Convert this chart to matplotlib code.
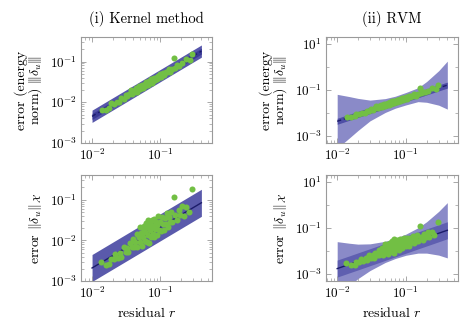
import matplotlib
matplotlib.use('Agg')
import matplotlib.pyplot as plt
from matplotlib.ticker import FixedLocator, NullFormatter, LogLocator

plt.rcParams['font.family'] = 'serif'
plt.rcParams['font.serif'] = ['cmr10']
plt.rcParams['mathtext.fontset'] = 'cm'
plt.rcParams['axes.formatter.use_mathtext'] = True

# shared samples: residual vs. error
top_r = [0.014, 0.016, 0.018, 0.019, 0.021, 0.023, 0.025, 0.027, 0.029, 0.031,
         0.033, 0.035, 0.037, 0.039, 0.040, 0.042, 0.044, 0.045, 0.047, 0.048,
         0.050, 0.051, 0.053, 0.054, 0.056, 0.057, 0.059, 0.060, 0.062, 0.063,
         0.065, 0.066, 0.068, 0.070, 0.071, 0.073, 0.075, 0.077, 0.079, 0.081,
         0.083, 0.085, 0.088, 0.090, 0.093, 0.096, 0.099, 0.102, 0.106, 0.110,
         0.115, 0.120, 0.126, 0.132, 0.140, 0.148, 0.160, 0.165, 0.175, 0.190,
         0.210, 0.240, 0.270, 0.290]
top_err = [0.0066, 0.0066, 0.0073, 0.0094, 0.0090, 0.0104, 0.0099, 0.0128, 0.0121, 0.0153,
           0.0141, 0.0161, 0.0200, 0.0158, 0.0194, 0.0183, 0.0222, 0.0182, 0.0218, 0.0248,
           0.0207, 0.0241, 0.0234, 0.0272, 0.0227, 0.0257, 0.0287, 0.0251, 0.0321, 0.0275,
           0.0307, 0.0267, 0.0337, 0.0299, 0.0326, 0.0368, 0.0304, 0.0364, 0.0338, 0.0401,
           0.0344, 0.0383, 0.0428, 0.0365, 0.0431, 0.0410, 0.0490, 0.0427, 0.0477, 0.0530,
           0.0476, 0.0567, 0.0539, 0.0642, 0.0567, 0.0666, 0.125, 0.0705, 0.0827, 0.0795,
           0.0945, 0.117, 0.112, 0.157]

bot_r = [0.0135, 0.016, 0.018, 0.019, 0.021, 0.022, 0.024, 0.026, 0.027, 0.029,
         0.031, 0.033, 0.034, 0.036, 0.038, 0.040, 0.041, 0.043, 0.045, 0.046,
         0.048, 0.050, 0.051, 0.052, 0.054, 0.055, 0.056, 0.058, 0.059, 0.060,
         0.062, 0.063, 0.064, 0.066, 0.067, 0.068, 0.070, 0.071, 0.072, 0.074,
         0.075, 0.077, 0.078, 0.080, 0.082, 0.084, 0.086, 0.088, 0.090, 0.093,
         0.095, 0.098, 0.101, 0.105, 0.108, 0.112, 0.116, 0.120, 0.125, 0.130,
         0.135, 0.140, 0.145, 0.150, 0.160, 0.165, 0.175, 0.185, 0.195, 0.210,
         0.220, 0.240, 0.260, 0.290]
bot_err = [0.0030, 0.0025, 0.0026, 0.0034, 0.0035, 0.0046, 0.0038, 0.0049, 0.0040, 0.0067,
           0.0052, 0.0066, 0.0051, 0.0087, 0.0068, 0.0109, 0.0067, 0.0090, 0.0142, 0.0068,
           0.0121, 0.0210, 0.0091, 0.0153, 0.0074, 0.0196, 0.0123, 0.0231, 0.0099, 0.0164,
           0.0273, 0.0093, 0.0208, 0.0139, 0.0324, 0.0086, 0.0265, 0.0179, 0.0121, 0.0233,
           0.0315, 0.0146, 0.0221, 0.0118, 0.0327, 0.0194, 0.0289, 0.0139, 0.0236, 0.0391,
           0.0180, 0.0288, 0.0170, 0.0375, 0.0249, 0.0176, 0.0365, 0.0252, 0.0473, 0.0218,
           0.0369, 0.0279, 0.0487, 0.0284, 0.118, 0.0416, 0.0312, 0.0544, 0.0410, 0.0706,
           0.0393, 0.0655, 0.0491, 0.183]

# kernel method fits (straight in log-log)
kern_x = [0.01, 0.4]
kern_top_mean = [0.0045, 0.18]
kern_top_lo2 = [0.0032, 0.128]
kern_top_hi2 = [0.0064, 0.255]
kern_top_lo1 = [0.0038, 0.153]
kern_top_hi1 = [0.0053, 0.212]
kern_bot_mean = [0.0021, 0.084]
kern_bot_lo = [0.00098, 0.039]
kern_bot_hi = [0.0045, 0.18]

# RVM fits
rvm_x = [0.01, 0.015, 0.02, 0.03, 0.05, 0.07, 0.1, 0.15, 0.2, 0.3, 0.4]
rvm_top_mean = [0.00438, 0.00653, 0.00865, 0.0129, 0.0212, 0.0295, 0.0419, 0.0623, 0.0826, 0.123, 0.163]
rvm_top_hi2 = [0.0648, 0.0518, 0.0433, 0.0364, 0.0423, 0.0537, 0.078, 0.125, 0.233, 0.69, 1.79]
rvm_top_lo2 = [0.000296, 0.000822, 0.00173, 0.00457, 0.0106, 0.0162, 0.0225, 0.0312, 0.0293, 0.0219, 0.0148]
rvm_top_hi1 = [0.00591, 0.00882, 0.0117, 0.0174, 0.0286, 0.0398, 0.0566, 0.0841, 0.1115, 0.166, 0.220]
rvm_top_lo1 = [0.00324, 0.00484, 0.00641, 0.00956, 0.0157, 0.0219, 0.0310, 0.0461, 0.0612, 0.0911, 0.121]
rvm_bot_mean = [0.00175, 0.00266, 0.00359, 0.00547, 0.00931, 0.0132, 0.0191, 0.0292, 0.0394, 0.060, 0.0809]
rvm_bot_hi2 = [0.0259, 0.0221, 0.0202, 0.0208, 0.0268, 0.0363, 0.055, 0.104, 0.189, 0.535, 1.28]
rvm_bot_lo2 = [0.000118, 0.00032, 0.00064, 0.00144, 0.00323, 0.0048, 0.00663, 0.00823, 0.00823, 0.00673, 0.0051]
rvm_bot_hi1 = [0.0041, 0.00622, 0.0084, 0.0128, 0.0218, 0.0309, 0.0447, 0.0683, 0.0922, 0.140, 0.189]
rvm_bot_lo1 = [0.00075, 0.00114, 0.00153, 0.00234, 0.00398, 0.00564, 0.00816, 0.0125, 0.0168, 0.0256, 0.0346]

GREEN = '#72bf44'
LINE = '#1c1c6a'
FRAME = '#9a9a9a'
DOT = 19

fig = plt.figure(figsize=(4.74, 3.22), dpi=100)
ax_tl = fig.add_axes([0.171, 0.556, 0.276, 0.329])
ax_tr = fig.add_axes([0.688, 0.556, 0.278, 0.329])
ax_bl = fig.add_axes([0.171, 0.127, 0.276, 0.329])
ax_br = fig.add_axes([0.688, 0.127, 0.278, 0.329])

# kernel top
ax_tl.fill_between(kern_x, kern_top_lo2, kern_top_hi2, color='#5656aa', lw=0)
ax_tl.fill_between(kern_x, kern_top_lo1, kern_top_hi1, color='#3a3a96', lw=0)
ax_tl.plot(kern_x, kern_top_mean, color=LINE, lw=1.0, dashes=(3, 2))
ax_tl.scatter(top_r, top_err, s=DOT, color=GREEN, lw=0, zorder=3)

# kernel bottom
ax_bl.fill_between(kern_x, kern_bot_lo, kern_bot_hi, color='#5a5aab', lw=0)
ax_bl.plot(kern_x, kern_bot_mean, color=LINE, lw=1.0)
ax_bl.scatter(bot_r, bot_err, s=DOT, color=GREEN, lw=0, zorder=3)

# RVM top
ax_tr.fill_between(rvm_x, rvm_top_lo2, rvm_top_hi2, color='#8a8ac8', lw=0)
ax_tr.fill_between(rvm_x, rvm_top_lo1, rvm_top_hi1, color='#4e4ea6', lw=0)
ax_tr.plot(rvm_x, rvm_top_mean, color=LINE, lw=1.0, dashes=(3, 2))
ax_tr.scatter(top_r, top_err, s=DOT, color=GREEN, lw=0, zorder=3)

# RVM bottom
ax_br.fill_between(rvm_x, rvm_bot_lo2, rvm_bot_hi2, color='#8a8ac8', lw=0)
ax_br.fill_between(rvm_x, rvm_bot_lo1, rvm_bot_hi1, color='#5f5fb0', lw=0)
ax_br.plot(rvm_x, rvm_bot_mean, color=LINE, lw=1.0)
ax_br.scatter(bot_r, bot_err, s=DOT, color=GREEN, lw=0, zorder=3)

for ax in (ax_tl, ax_tr, ax_bl, ax_br):
    ax.set_xscale('log')
    ax.set_yscale('log')
    ax.set_xlim(0.0069, 0.57)
    ax.xaxis.set_major_locator(FixedLocator([1e-2, 1e-1]))
    ax.xaxis.set_minor_locator(LogLocator(base=10, subs=range(2, 10)))
    ax.xaxis.set_minor_formatter(NullFormatter())
    ax.tick_params(which='both', direction='in', top=True, right=True,
                   color=FRAME, labelsize=9.5, pad=3)
    ax.tick_params(which='major', length=3.5, width=0.6)
    ax.tick_params(which='minor', length=2, width=0.5)
    for sp in ax.spines.values():
        sp.set_color(FRAME)
        sp.set_linewidth(0.8)

for ax in (ax_tl, ax_bl):
    ax.set_ylim(1e-3, 0.4)
    ax.yaxis.set_major_locator(FixedLocator([1e-3, 1e-2, 1e-1]))
    ax.yaxis.set_minor_locator(LogLocator(base=10, subs=range(2, 10)))
    ax.yaxis.set_minor_formatter(NullFormatter())

for ax in (ax_tr, ax_br):
    ax.set_ylim(10 ** -3.3, 10 ** 1.3)
    ax.yaxis.set_major_locator(FixedLocator([1e-3, 1e-1, 1e1]))
    ax.yaxis.set_minor_locator(FixedLocator([1e-2, 1e0]))
    ax.yaxis.set_minor_formatter(NullFormatter())

top_label = 'error (energy\nnorm) $|\\!|\\!|\\boldsymbol{\\delta_u}|\\!|\\!|$'
bot_label = 'error $\\|\\boldsymbol{\\delta_u}\\|_{\\mathcal{X}}$'
for ax in (ax_tl, ax_tr):
    ax.set_ylabel(top_label, fontsize=10, linespacing=0.95, labelpad=4)
for ax in (ax_bl, ax_br):
    ax.set_ylabel(bot_label, fontsize=10, labelpad=4)
    ax.set_xlabel('residual $r$', fontsize=10, labelpad=4)

ax_tl.set_title('(i) Kernel method', fontsize=10.5, pad=10)
ax_tr.set_title('(ii) RVM', fontsize=10.5, pad=10)

fig.savefig('out.png', dpi=100)
